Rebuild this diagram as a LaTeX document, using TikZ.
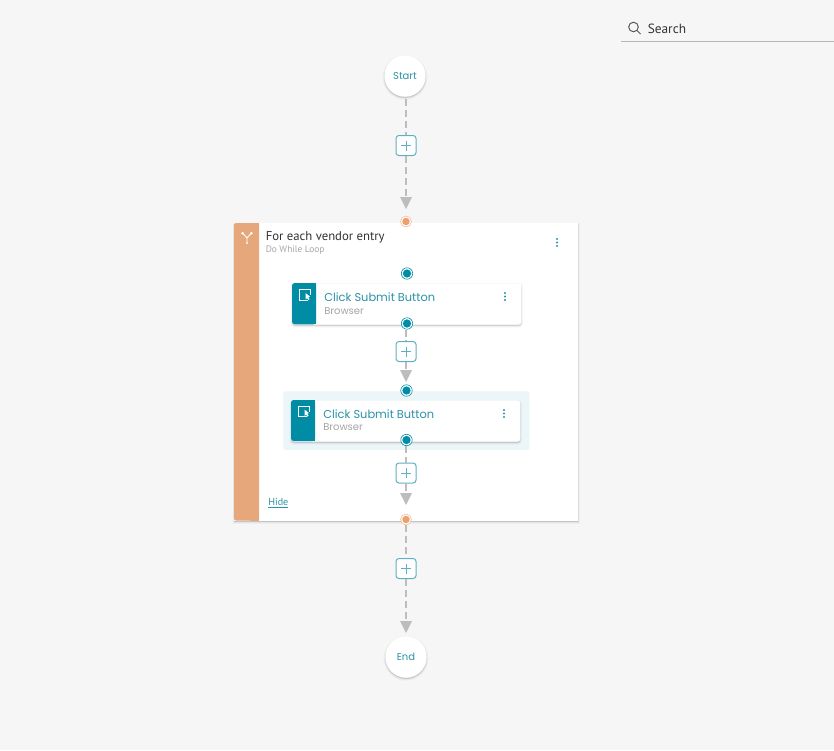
\documentclass[tikz,border=0pt]{standalone}
\usepackage{fontspec}
\setmainfont{PT Sans}
\newfontfamily\pop{Poppins}
\usetikzlibrary{arrows.meta,calc,shadows,positioning}
\definecolor{bgc}{HTML}{F6F6F6}
\definecolor{teal}{HTML}{008CA5}
\definecolor{tealtxt}{HTML}{2A93A8}
\definecolor{orangeband}{HTML}{E6A77A}
\definecolor{orangedot}{HTML}{EE9F6E}
\definecolor{paleblue}{HTML}{ECF5F8}
\definecolor{linec}{HTML}{BDBDBD}
\definecolor{plusc}{HTML}{5FB0C2}
\definecolor{subc}{HTML}{A6A6A6}
\definecolor{titlec}{HTML}{333333}
\tikzset{
  softshadow/.style={
    general shadow={shadow xshift=0pt,shadow yshift=-1pt,fill=black,opacity=.03,draw=black,draw opacity=.03,line width=2.6pt},
    general shadow={shadow xshift=0pt,shadow yshift=-1pt,fill=black,opacity=.035,draw=black,draw opacity=.035,line width=1.4pt},
    general shadow={shadow xshift=0pt,shadow yshift=-.6pt,fill=black,opacity=.04,draw=black,draw opacity=.04,line width=.5pt}},
  terminal/.style={circle,fill=white,minimum size=31pt,inner sep=0pt,softshadow,text=tealtxt,font=\pop\fontsize{7.5pt}{9pt}\selectfont},
  addbox/.style={draw=plusc,line width=.75pt,fill=white,rounded corners=2.2pt,minimum size=15pt,inner sep=0pt},
  flowline/.style={draw=linec,line width=1.25pt,dash pattern=on 5.4pt off 2.8pt},
  arrowhead/.style={draw=none,fill=linec},
  tealport/.style={circle,draw=teal,line width=.45pt,fill=white,minimum size=8.6pt,inner sep=0pt,path picture={\fill[teal] (path picture bounding box.center) circle (3.1pt);}},
  orangeport/.style={circle,draw=orangedot!70,line width=.45pt,fill=white,minimum size=8.2pt,inner sep=0pt,path picture={\fill[orangedot] (path picture bounding box.center) circle (2.8pt);}},
  cardtitle/.style={anchor=west,inner sep=0pt,text=tealtxt,font=\pop\fontsize{8.55pt}{11pt}\selectfont},
  cardsub/.style={anchor=west,inner sep=0pt,text=subc,font=\pop\fontsize{7.5pt}{9pt}\selectfont},
  kebab/.style={fill=tealtxt,draw=none},
}
\begin{document}
\begin{tikzpicture}[x=.75pt,y=-.75pt]
\useasboundingbox (0,0) rectangle (834,750);
\fill[bgc] (0,0) rectangle (834,750);

% search
\draw[line width=.75pt,draw=black!65] (633.5,27) circle (4.8) (637,30.5) -- (640.5,34);
\node[anchor=west,inner sep=0pt,text=titlec,font=\fontsize{10pt}{12pt}\selectfont] (searchlabel) at (647.5,29) {Search};
\draw[draw=black!25!bgc,line width=.9pt] (621,41.5) -- (834,41.5);

% main card
\node[draw=none,fill=white,softshadow,minimum width=258pt,minimum height=223.1pt,inner sep=0pt,anchor=north west] (loop) at (234,223) {};
\fill[orangeband,rounded corners=1.5pt] (234,223) rectangle (259,520.5);
\fill[orangeband] (250,223) rectangle (259,520.5);
% fork icon
\draw[white,line width=.7pt] (247,243) -- (247,238) -- (243,233.5) (247,238) -- (251,233.5);
\fill[white] (242.6,233.2) circle (1.4) (251.4,233.2) circle (1.4) (247,243) circle (1);

\node[anchor=west,inner sep=0pt,text=titlec,font=\fontsize{9.55pt}{12pt}\selectfont] (looptitle) at (265.5,237.5) {For each vendor entry};
\node[anchor=west,inner sep=0pt,text=subc,font=\fontsize{7.05pt}{9pt}\selectfont] (loopsub) at (265.5,250.5) {Do While Loop};
\foreach \yy in {239,242.5,246}{\fill[kebab] (557,\yy) circle (1.05);}

% highlight
\node[fill=paleblue,rounded corners=1pt,minimum width=184.5pt,minimum height=44pt,inner sep=0pt,anchor=north west] (highlight) at (283,391) {};

% step cards
\node[fill=white,rounded corners=2pt,softshadow,minimum width=171.75pt,minimum height=31pt,inner sep=0pt,anchor=north west] (card1) at (292,283) {};
\fill[teal,rounded corners=2pt] (292,283) rectangle (316,324.3);
\fill[teal] (305,283) rectangle (316,324.3);
\draw[white,line width=.7pt] (308,300) -- (299,300) -- (299,289.5) -- (310,289.5) -- (310,295);
\fill[white] (305.5,293) -- (305.5,299.5) -- (307,298) -- (308.5,300) -- (309.5,299) -- (308.2,297.2) -- (310,296.6) -- cycle;
\node[cardtitle] (title1) at (324,297.5) {Click Submit Button};
\node[cardsub] (sub1) at (324,311) {Browser};
\foreach \yy in {293,296.5,300}{\fill[kebab] (505,\yy) circle (1.05);}

\node[fill=white,rounded corners=2pt,softshadow,minimum width=171.75pt,minimum height=31pt,inner sep=0pt,anchor=north west] (card2) at (291,400) {};
\fill[teal,rounded corners=2pt] (291,400) rectangle (315,441);
\fill[teal] (304,400) rectangle (315,441);
\draw[white,line width=.7pt] (307,416.5) -- (298,416.5) -- (298,406) -- (309,406) -- (309,411.5);
\fill[white] (304.5,409.5) -- (304.5,416) -- (306,414.5) -- (307.5,416.5) -- (308.5,415.5) -- (307.2,413.7) -- (309,413.1) -- cycle;
\node[cardtitle] (title2) at (323,414) {Click Submit Button};
\node[cardsub] (sub2) at (323,427.5) {Browser};
\foreach \yy in {410,413.5,417}{\fill[kebab] (504,\yy) circle (1.05);}

% connector nodes
\node[terminal] (start) at (405,76) {\raisebox{-.8pt}{Start}};
\node[terminal] (end) at (406,657) {End};
\node[addbox] (add1) at (406,145.5) {};
\node[addbox] (add2) at (406,351.5) {};
\node[addbox] (add3) at (406,473) {};
\node[addbox] (add4) at (406,568.5) {};
\node[orangeport] (in) at (406,221.5) {};
\node[orangeport] (out) at (406,519.5) {};
\node[tealport] (p1) at (407,273.5) {};
\node[tealport] (p2) at (407,323.5) {};
\node[tealport] (p3) at (406.5,390.5) {};
\node[tealport] (p4) at (406.5,440) {};
\coordinate (tip1) at (406,209);
\coordinate (tip2) at (406,382);
\coordinate (tip3) at (406,505);
\coordinate (tip4) at (406,633);

\draw[flowline] (start.south -| add1) ++(0,2) -- (add1.north);
\draw[flowline] (add1.south) -- (tip1);
\draw[flowline] (p2.south -| add2) -- (add2.north);
\draw[flowline] (add2.south) -- (tip2);
\draw[flowline] (p4.south -| add3) -- (add3.north);
\draw[flowline] (add3.south) -- (tip3);
\draw[flowline] (out.south) -- (add4.north);
\draw[flowline] (add4.south) -- (tip4);
\foreach \t in {tip1,tip2,tip3,tip4}{
  \fill[arrowhead] ($(\t)+(-6,-12)$) -- ($(\t)+(6,-12)$) -- (\t) -- cycle;
}
\foreach \a in {add1,add2,add3,add4}{
  \draw[plusc,line width=.6pt] ($(\a)+(-5,0)$) -- ($(\a)+(5,0)$) ($(\a)+(0,-5)$) -- ($(\a)+(0,5)$);
}
\node[anchor=west,inner sep=0pt,text=tealtxt,font=\fontsize{7.6pt}{9pt}\selectfont] (hide) at (268,503) {\underline{Hide}};
\end{tikzpicture}
\end{document}
